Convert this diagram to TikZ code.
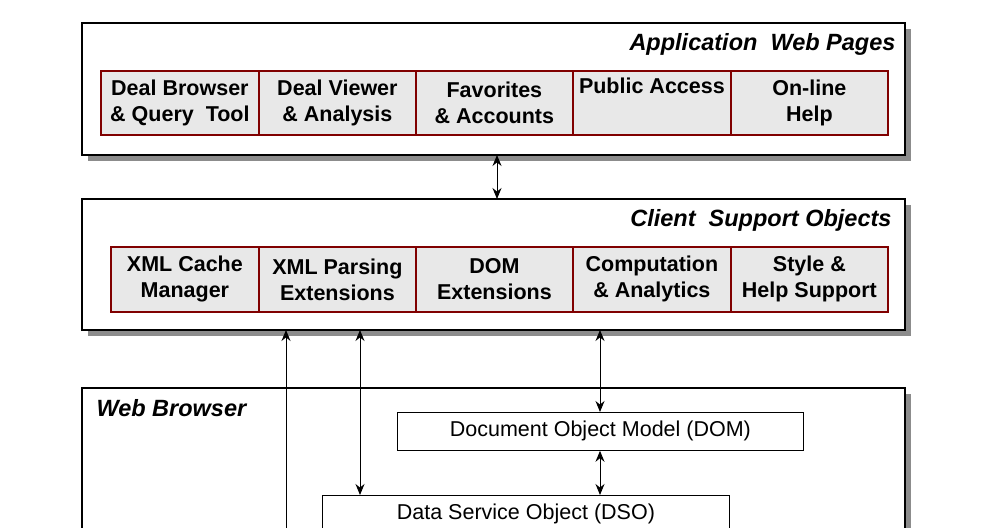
\documentclass[tikz,border=0pt]{standalone}
\usepackage{fontspec}
\setmainfont{Liberation Sans}
\usetikzlibrary{arrows.meta}
\definecolor{dred}{HTML}{800000}
\definecolor{lgray}{HTML}{E8E8E8}
\begin{document}
\begin{tikzpicture}[x=1pt,y=-1pt,
  outer/.style={draw=black,line width=1.3pt,fill=white},
  shadow/.style={fill=black!45,draw=none},
  sub/.style={draw=dred,line width=1.8pt,fill=lgray,font=\fontsize{21.5}{26}\selectfont\bfseries,align=center},
  ttl/.style={font=\fontsize{23.5}{28}\selectfont\bfseries\itshape},
  plain/.style={draw=black,line width=0.8pt,fill=white,font=\fontsize{21.5}{26}\selectfont},
  arr/.style={line width=1pt,{Stealth[length=11pt,width=9pt]}-{Stealth[length=11pt,width=9pt]}}]
\useasboundingbox (0,0) rectangle (1003,527);
% box 1
\fill[shadow] (88,29) rectangle (911,161);
\draw[outer] (82,23) rectangle (905,155);
\node[ttl,anchor=east] (t1) at (899,44) {Application\ \ Web Pages};
\foreach \a/\b/\n/\t in {100/258/s1/{Deal Browser\\\& Query\ \ Tool},258/415/s2/{Deal Viewer\\\& Analysis},415/572/s3/{Favorites\\\& Accounts},572/730/s4/{Public Access\\\strut},730/887/s5/{On-line\\Help}}
  \node[sub,minimum width=\b-\a,minimum height=64,anchor=north west,inner sep=0] (\n) at (\a,70) {\t};
% box 2
\fill[shadow] (88,205) rectangle (911,336);
\draw[outer] (82,199) rectangle (905,330);
\node[ttl,anchor=east] (t2) at (895,220) {Client\ \ Support Objects};
\foreach \a/\b/\n/\t in {110/258/c1/{XML Cache\\Manager},258/415/c2/{XML Parsing\\Extensions},415/572/c3/{DOM\\Extensions},572/730/c4/{Computation\\\& Analytics},730/887/c5/{Style \&\\Help Support}}
  \node[sub,minimum width=\b-\a,minimum height=65,anchor=north west,inner sep=0] (\n) at (\a,246) {\t};
% box 3
\fill[shadow] (88,394) rectangle (911,540);
\draw[outer] (82,388) rectangle (905,540);
\node[ttl,anchor=west] (t3) at (93,408) {Web Browser};
\node[plain,minimum width=406,minimum height=38,anchor=north west,inner sep=0] (dom) at (397,412) {Document Object Model (DOM)};
\node[plain,minimum width=407,minimum height=38,anchor=north west,inner sep=0] (dso) at (322,495) {Data Service Object (DSO)};
% connectors
\coordinate (b1s) at (497,155); \coordinate (b2n) at (497,199);
\coordinate (b2a) at (600,330); \coordinate (b2b) at (360,330); \coordinate (b2c) at (286,330);
\coordinate (bot) at (286,540);
\draw[arr] (b1s) -- (b2n);
\draw[arr] (b2a) -- (b2a |- dom.north);
\draw[arr] (dom.south -| 600,0) -- (dso.north -| 600,0);
\draw[arr] (b2b) -- (b2b |- dso.north);
\draw[line width=1pt,-{Stealth[length=11pt,width=9pt]}] (bot) -- (b2c);
\end{tikzpicture}
\end{document}
